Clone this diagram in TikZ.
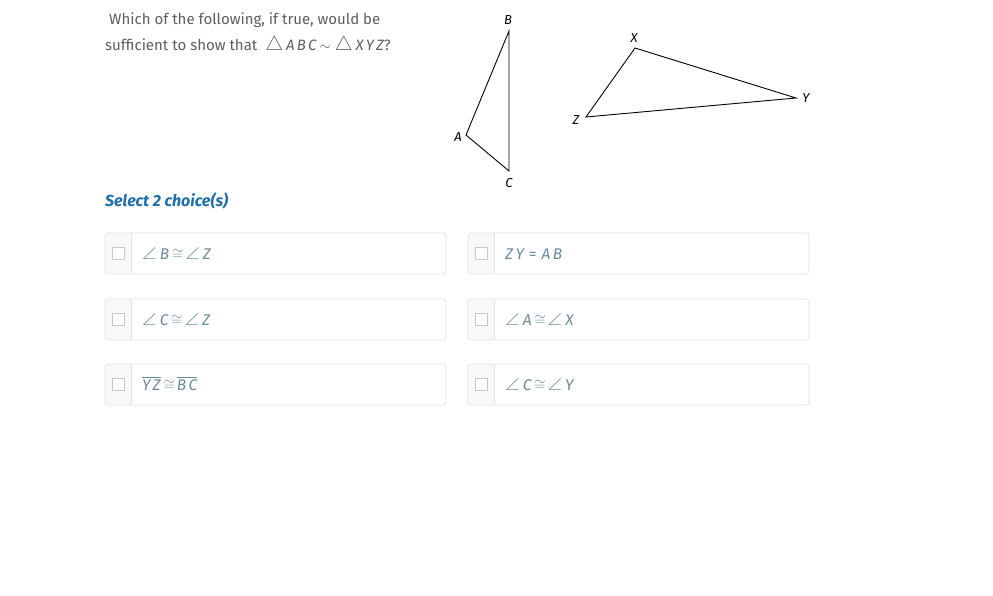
\documentclass[tikz,border=0pt]{standalone}
\usepackage{fontspec}
\setmainfont{Fira Sans}
\newfontfamily\mlet[LetterSpace=15]{Fira Sans}
\usepackage{amssymb}
\usepackage{graphicx}
\definecolor{qtext}{HTML}{5E5E5E}
\definecolor{seltext}{HTML}{1D6FA5}
\definecolor{choicetext}{HTML}{6B8A9A}
\definecolor{boxborder}{HTML}{E3E3E3}
\definecolor{stripfill}{HTML}{F8F8F8}
\definecolor{chkborder}{HTML}{C8C8C8}
\newcommand{\ml}[1]{{\mlet\itshape #1}}
\newcommand{\ang}{\scalebox{1.3}[1.1]{$\angle$}\hspace{3pt}}
\newcommand{\cg}{\hspace{3pt}$\cong$\hspace{2pt}}
\newcommand{\tri}{\scalebox{1.4}{$\triangle$}\hspace{3pt}}
\tikzset{
  x=1pt, y=-1pt,
  tri/.style={draw=black, line width=0.9pt, line join=miter},
  vlabel/.style={font=\fontsize{13}{13}\selectfont\itshape, inner sep=0pt, text=black},
  qline/.style={anchor=base west, inner sep=0pt, text=qtext, font=\fontsize{15}{15}\selectfont},
  choicebox/.style={draw=boxborder, line width=0.8pt, rounded corners=3pt},
  chk/.style={draw=chkborder, line width=1pt, fill=white, minimum size=12pt, inner sep=0pt},
  choicelabel/.style={anchor=base west, inner sep=0pt, text=choicetext, font=\fontsize{15.5}{15.5}\selectfont}
}
\newcommand{\choicerow}[4]{% name, x0, y0, text
  \fill[white, rounded corners=3pt] (#2,#3) rectangle ++(341,41);
  \begin{scope}
    \clip[rounded corners=3pt] (#2,#3) rectangle ++(341,41);
    \fill[stripfill] (#2,#3) rectangle ++(26,41);
  \end{scope}
  \draw[boxborder, line width=0.8pt] (#2+26,#3) -- (#2+26,#3+41);
  \draw[choicebox] (#2,#3) rectangle ++(341,41);
  \node[chk] (#1chk) at (#2+13,#3+20.5) {};
  \node[choicelabel] (#1txt) at (#2+37,#3+26) {#4};
}
\begin{document}
\begin{tikzpicture}
\useasboundingbox (0,0) rectangle (993,595);
\fill[white] (0,0) rectangle (993,595);

% question
\node[qline] (q1) at (109,24) {Which of the following, if true, would be};
\node[qline] (q2) at (105,50) {sufficient to show that \hspace{4pt}\tri\ml{ABC}\hspace{3pt}$\sim$\hspace{4pt}\tri\ml{XYZ}?};

% triangle ABC
\coordinate (A) at (466,135);
\coordinate (B) at (509,31);
\coordinate (C) at (509,171);
\draw[tri] (A) -- (B) -- (C) -- cycle;
\node[vlabel] (lA) at (458,137) {A};
\node[vlabel] (lB) at (508,20) {B};
\node[vlabel] (lC) at (509,183) {C};

% triangle XYZ
\coordinate (X) at (635,48);
\coordinate (Y) at (796,98);
\coordinate (Z) at (586,117);
\draw[tri] (X) -- (Y) -- (Z) -- cycle;
\node[vlabel] (lX) at (634,38) {X};
\node[vlabel] (lY) at (806,98) {Y};
\node[vlabel] (lZ) at (576,120) {Z};

% select
\node[anchor=base west, inner sep=0pt, text=seltext, font=\fontsize{16}{16}\selectfont\bfseries\itshape] (sel) at (105,206) {Select 2 choice(s)};

% choices
\choicerow{c1}{105}{233}{\ang\ml{B}\cg\ang\ml{Z}}
\choicerow{c2}{468}{233}{\ml{ZY}\hspace{5pt}=\hspace{5pt}\ml{AB}}
\choicerow{c3}{105}{299}{\ang\ml{C}\cg\ang\ml{Z}}
\choicerow{c4}{468}{299}{\ang\ml{A}\cg\ang\ml{X}}
\choicerow{c5}{105}{364}{$\overline{\hbox{\ml{YZ}}}$\cg$\overline{\hbox{\ml{BC}}}$}
\choicerow{c6}{468}{364}{\ang\ml{C}\cg\ang\ml{Y}}
\end{tikzpicture}
\end{document}
